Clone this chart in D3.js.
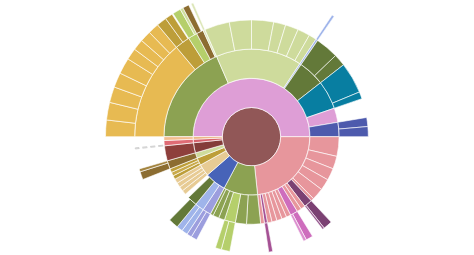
<!DOCTYPE html>
<html>
<head>
<meta charset="utf-8">
<script src="https://cdn.jsdelivr.net/npm/d3@7"></script>
<style>
  html, body { margin: 0; padding: 0; background: #fff; }
  svg { display: block; }
</style>
</head>
<body>
<svg id="chart" width="474" height="255"></svg>
<script>
// ---- DATA: [id, parent, own value in degrees of arc] ----
const centreNode = [["root", null, 0]];

const pinkBranch = [
  ["A", "root", 0],
  ["A1", "A", 0],
  ["A1a", "A1", 0],
  ["A1a1", "A1a", 6.6], ["A1a2", "A1a", 7], ["A1a3", "A1a", 6.3], ["A1a4", "A1a", 5.9],
  ["A1a5", "A1a", 6.4], ["A1a6", "A1a", 4.6], ["A1a7", "A1a", 4.4], ["A1a8", "A1a", 4.4], ["A1a9", "A1a", 4.4],
  ["A1b", "A1", 0.5],
  ["A1b1", "A1b", 4], ["A1b2", "A1b", 3],
  ["A1c", "A1", 0],
  ["A1c1", "A1c", 3.3], ["A1c2", "A1c", 1.2],
  ["A1d", "A1", 1],
  ["A1d1", "A1d", 2.5],
  ["A1e", "A1", 0],
  ["A1e1", "A1e", 1],
  ["A2", "A", 0],
  ["A2a", "A2", 12.5], ["A2b", "A2", 11], ["A2c", "A2", 11], ["A2d", "A2", 6],
  ["A2e", "A2", 6.5], ["A2f", "A2", 6.2], ["A2g", "A2", 3.8],
  ["A3", "A", 0],
  ["A3a", "A3", 0],
  ["A3a1", "A3a", 1],
  ["A4", "A", 0],
  ["A4a", "A4", 11.5], ["A4b", "A4", 6],
  ["A5", "A", 0],
  ["A5a", "A5", 15.5], ["A5b", "A5", 3.5],
  ["A6", "A", 9.5],
  ["A7", "A", 0],
  ["A7a", "A7", 4.5], ["A7b", "A7", 5]
];

const salmonBranch = [
  ["B", "root", 0],
  ["B1", "B", 13], ["B2", "B", 8.5], ["B3", "B", 8], ["B4", "B", 7.5], ["B5", "B", 8], ["B6", "B", 2],
  ["B7", "B", 0], ["B7a", "B7", 4.5], ["B7b", "B7", 1],
  ["B8", "B", 3], ["B9", "B", 3],
  ["B10", "B", 0], ["B10a", "B10", 3.5], ["B10b", "B10", 1.5],
  ["B11", "B", 3], ["B12", "B", 3.2], ["B13", "B", 3.5], ["B14", "B", 3.3], ["B15", "B", 3],
  ["B16", "B", 0], ["B16a", "B16", 2],
  ["B17", "B", 2.5]
];

const greenBranch = [
  ["C", "root", 0],
  ["C1", "C", 9.3], ["C2", "C", 7.4],
  ["C3", "C", 0], ["C3a", "C3", 4.3], ["C3b", "C3", 3],
  ["C4", "C", 4], ["C5", "C", 4], ["C6", "C", 2]
];

const blueBranch = [
  ["D", "root", 3],
  ["D1", "D", 0], ["D1a", "D1", 3], ["D1b", "D1", 2.5],
  ["D2", "D", 0], ["D2a", "D2", 3], ["D2b", "D2", 3],
  ["D3", "D", 1.5], ["D3a", "D3", 5]
];

const leftBranches = [
  ["E", "root", 0], ["E1", "E", 3], ["E2", "E", 3], ["E3", "E", 3], ["E4", "E", 3],
  ["F", "root", 0], ["F1", "F", 2.5], ["F2", "F", 2.5], ["F3", "F", 2.5],
  ["G", "root", 0], ["G1", "G", 0], ["G1a", "G1", 4], ["G1b", "G1", 1.5],
  ["H", "root", 0], ["H1", "H", 10],
  ["I", "root", 0], ["I1", "I", 3], ["I1a", "I1", 0.5],
  ["J", "root", 0], ["J1", "J", 2.5]
];

// colours (children inherit their parent's colour unless listed)
const colours = {
  root: "#915757",
  A: "#de9ed6", A1: "#8ca252", A1a: "#e7ba52", A1b: "#bd9e39", A1c: "#b5cf6b", A1c2: "#cfe0a0",
  A1d: "#8c6d31", A1e: "#dce6b8", A2: "#cedb9c", A3: "#9fb4ea", A4: "#637939",
  A5: "#087ea1", A6: "#de9ed6", A7: "#4d5aad",
  B: "#e7969c", B7: "#7b4173", B7b: "#9a5c92", B10: "#ce6dbd", B10b: "#dc8fcf", B16: "#a55194",
  C: "#8ca252", C3: "#b5cf6b",
  D: "#4763b8", D1: "#9c9ede", D2: "#9fb4ea", D3: "#637939",
  E: "#e7cb94", F: "#bd9e39", F2: "#c9aa4a",
  G: "#cedb9c", G1: "#8c6d31", G1b: "#a3843f",
  H: "#843c39", H1: "#8e3f3c",
  I: "#d6616b", I1: "#e06b75", I1a: "#bbbbbb",
  J: "#eaae78", J1: "#f3bd8e"
};
const dashedNodes = ["I1a"];

// ---- CHART ----
const width = 474, height = 255;
const cx = 251.5, cy = 136.7, outerR = 146;

const rows = [].concat(centreNode, pinkBranch, salmonBranch, greenBranch, blueBranch, leftBranches);

const root = d3.stratify().id(d => d[0]).parentId(d => d[1])(rows)
  .sum(d => d[2]);

d3.partition().size([2 * Math.PI, root.height + 1])(root);

const angle = d3.scaleLinear().domain([0, 2 * Math.PI]).range([-Math.PI / 2, 1.5 * Math.PI]);
const radius = d3.scaleLinear().domain([0, root.height + 1]).range([0, outerR]);

const arc = d3.arc()
  .startAngle(d => angle(d.x0))
  .endAngle(d => angle(d.x1))
  .innerRadius(d => radius(d.y0))
  .outerRadius(d => radius(d.y1));

function colourOf(node) {
  let n = node;
  while (n) {
    if (colours[n.id]) return colours[n.id];
    n = n.parent;
  }
  return "#ccc";
}

const svg = d3.select("#chart");
const g = svg.append("g").attr("transform", `translate(${cx},${cy})`);

g.selectAll("path")
  .data(root.descendants())
  .join("path")
  .attr("d", arc)
  .attr("fill", d => dashedNodes.includes(d.id) ? "none" : colourOf(d))
  .attr("stroke", d => dashedNodes.includes(d.id) ? "#c4c4c4" : "#ffffff")
  .attr("stroke-width", d => dashedNodes.includes(d.id) ? 0.8 : 0.9)
  .attr("stroke-opacity", d => dashedNodes.includes(d.id) ? 1 : 0.7)
  .attr("stroke-dasharray", d => dashedNodes.includes(d.id) ? "5,3" : null);
</script>
</body>
</html>
